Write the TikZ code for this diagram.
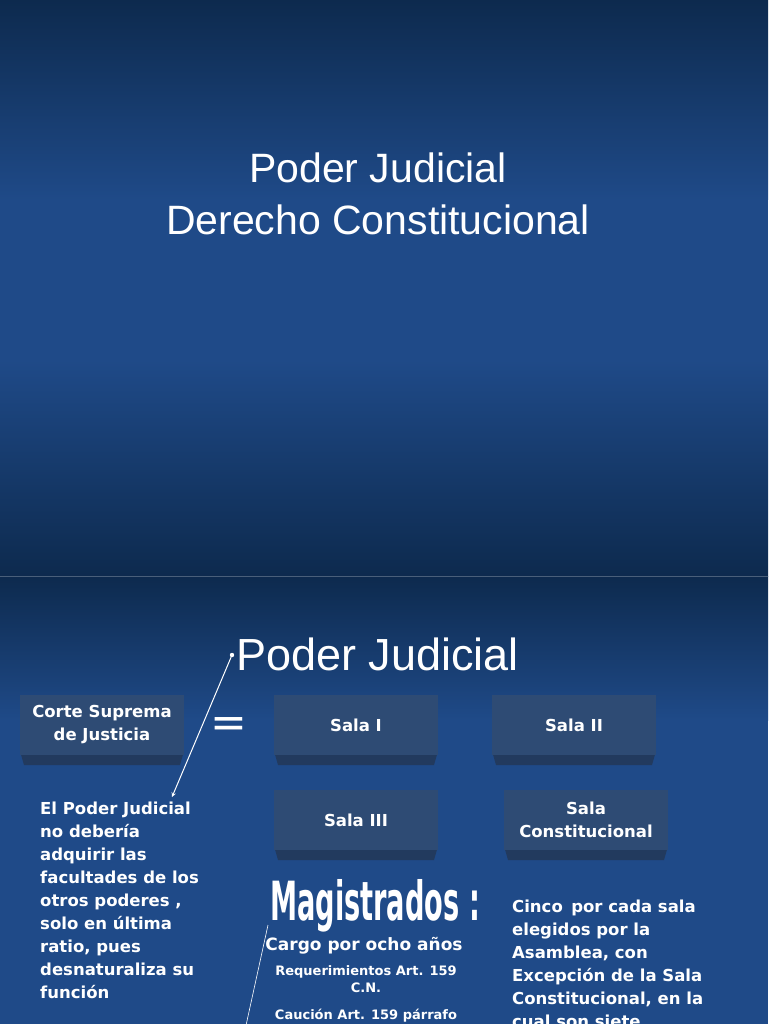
\documentclass[tikz,border=0pt]{standalone}
\usepackage{fontspec}
\setmainfont{DejaVu Sans}
\newfontfamily\titf{Liberation Sans}
\newfontfamily\magf{DejaVu Sans Condensed}
\begin{document}
\begin{tikzpicture}[x=1pt,y=-1pt,
  sbox/.style={fill=boxc,minimum width=164pt,minimum height=60pt,inner sep=0pt,text=white,font=\bfseries\fontsize{16.5}{23}\selectfont,align=center},
  btxt/.style={text=white,font=\bfseries\fontsize{16.5}{23}\selectfont,align=left,anchor=north west,inner sep=0pt},
  ttl/.style={text=white,font=\titf\fontsize{41}{52}\selectfont,align=center}]
\definecolor{boxc}{HTML}{2E4B74}
\definecolor{bevel}{HTML}{223A5E}
\definecolor{dk}{HTML}{0D2A4E}
\definecolor{md}{HTML}{1F4A88}
\useasboundingbox (0,0) rectangle (768,1024);
\clip (0,0) rectangle (768,1024);
% slide 1
\shade[top color=dk,bottom color=md] (0,0) rectangle (768,200);
\fill[md] (0,200) rectangle (768,360);
\shade[top color=md,bottom color=dk] (0,360) rectangle (768,576);
% slide 2
\shade[top color=dk,bottom color=md] (0,576) rectangle (768,720);
\fill[md] (0,720) rectangle (768,1024);
\draw[white!25!dk,line width=1pt] (0,576) -- (768,576);
\node[ttl] (t1) at (378,194) {Poder Judicial\\Derecho Constitucional};
\node[text=white,font=\titf\fontsize{45}{50}\selectfont,anchor=west,inner sep=0pt] (t2) at (236,654) {Poder Judicial};
% boxes
\foreach \n/\x/\y/\t in {cs/102/725/{Corte Suprema\\de Justicia},s1/356/725/{Sala I},s2/574/725/{Sala II},s3/356/820/{Sala III},sc/586/820/{Sala\\Constitucional}}{
  \fill[bevel] (\x-82,\y+26) -- (\x+82,\y+26) -- (\x+78,\y+40) -- (\x-78,\y+40) -- cycle;
  \node[sbox] (\n) at (\x,\y) {\t};
}
\node[text=white,font=\fontsize{44}{44}\selectfont,inner sep=0pt] (eq) at (229,728) {=};
\coordinate (ds) at (232,655);
\coordinate (ae) at (172,797);
\fill[white] (ds) circle (2.2pt);
\draw[white,line width=1pt,-stealth] (ds) -- (ae);
\node[btxt] (p1) at (40,802) {El Poder Judicial\\no debería\\adquirir las\\facultades de los\\otros poderes ,\\solo en última\\ratio, pues\\desnaturaliza su\\función};
\node[text=white,font=\magf\bfseries\fontsize{54}{54}\selectfont,inner sep=0pt,xscale=0.56,anchor=west] (mag) at (270,906) {Magistrados :};
\node[text=white,font=\bfseries\fontsize{17}{20}\selectfont,inner sep=0pt] (cargo) at (364,946) {Cargo por ocho años};
\node[text=white,font=\bfseries\fontsize{13}{17}\selectfont,align=center,anchor=north,inner sep=0pt] (req) at (366,965) {Requerimientos Art. 159\\C.N.\\[10pt]Caución Art. 159 párrafo};
\coordinate (la) at (268,925);
\coordinate (lb) at (245,1030);
\draw[white,line width=0.6pt] (la) -- (lb);
\node[btxt] (p2) at (512,900) {Cinco\, por cada sala\\elegidos por la\\Asamblea, con\\Excepción de la Sala\\Constitucional, en la\\cual son siete};
\end{tikzpicture}
\end{document}
